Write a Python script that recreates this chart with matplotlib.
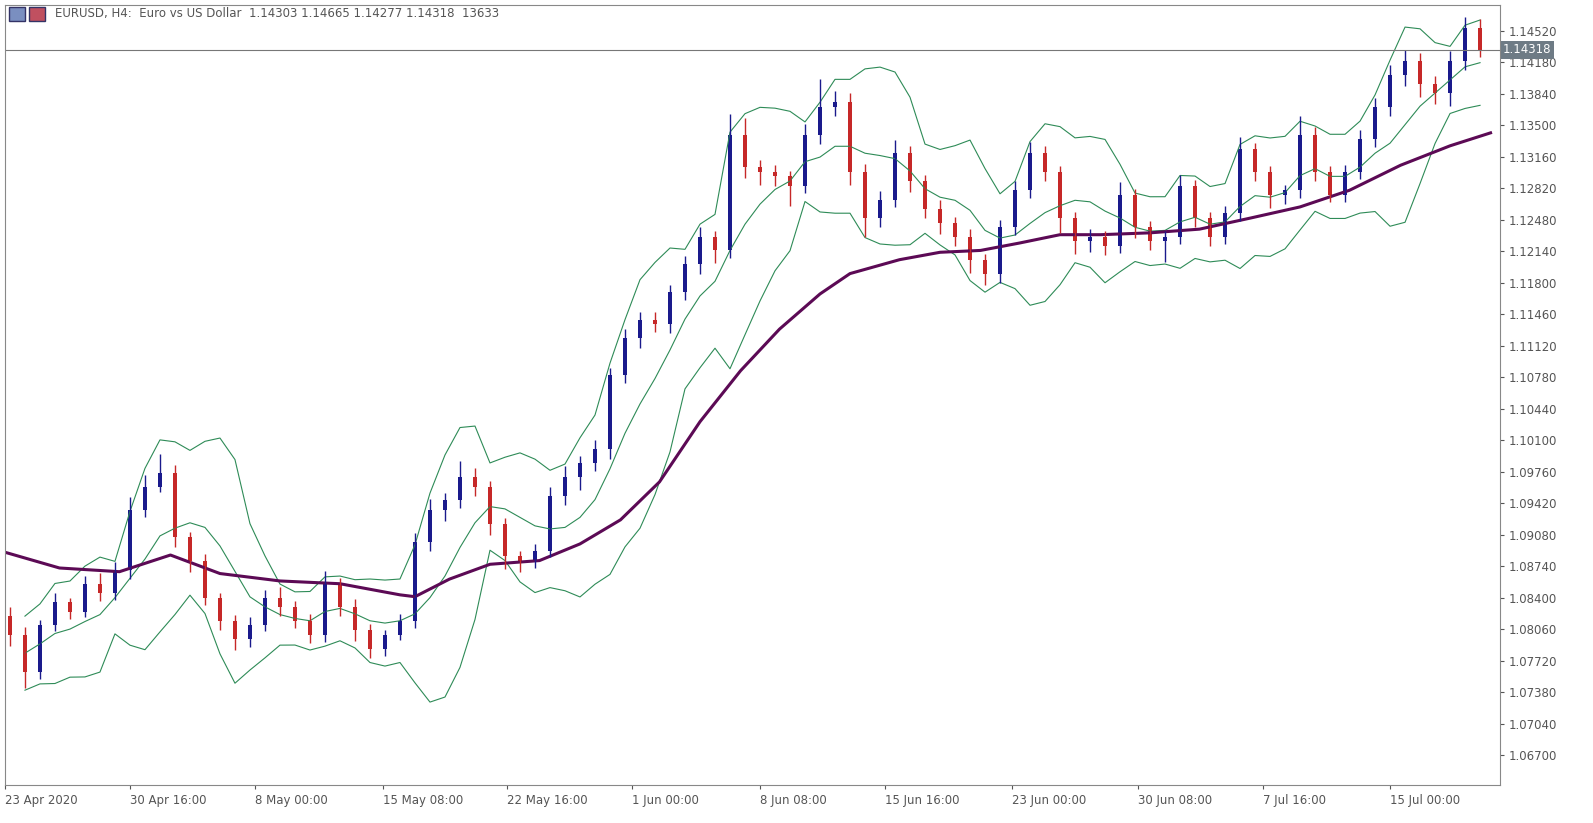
import matplotlib
matplotlib.use("Agg")
import matplotlib.pyplot as plt
import numpy as np
import pandas as pd

# close of each bar (one bar per ~8 hours)
closes = [1.0800, 1.0760, 1.0810, 1.0835, 1.0825, 1.0855, 1.0845, 1.0870, 1.0935, 1.0960,
          1.0975, 1.0905, 1.0880, 1.0840, 1.0815, 1.0795, 1.0810, 1.0840, 1.0830, 1.0815,
          1.0800, 1.0855, 1.0830, 1.0805, 1.0785, 1.0800, 1.0815, 1.0900, 1.0935, 1.0945,
          1.0970, 1.0960, 1.0920, 1.0885, 1.0880, 1.0890, 1.0950, 1.0970, 1.0985, 1.1000,
          1.1080, 1.1120, 1.1140, 1.1135, 1.1170, 1.1200, 1.1230, 1.1215, 1.1340, 1.1305,
          1.1300, 1.1295, 1.1285, 1.1340, 1.1370, 1.1375, 1.1300, 1.1250, 1.1270, 1.1320,
          1.1290, 1.1260, 1.1245, 1.1230, 1.1205, 1.1190, 1.1240, 1.1280, 1.1320, 1.1300,
          1.1250, 1.1225, 1.1230, 1.1220, 1.1275, 1.1240, 1.1225, 1.1230, 1.1285, 1.1250,
          1.1230, 1.1255, 1.1325, 1.1300, 1.1275, 1.1280, 1.1340, 1.1300, 1.1275, 1.1300,
          1.1335, 1.1370, 1.1405, 1.1420, 1.1395, 1.1385, 1.1420, 1.1455, 1.14318]
first_open = 1.0820
# wick sizes above / below the body, in pips
wick_up = [10, 8, 6, 10, 5, 8, 12, 9, 14, 12, 20, 8, 6, 7, 5, 6, 9, 8, 12, 6,
           7, 14, 6, 8, 6, 5, 7, 10, 12, 8, 18, 10, 6, 6, 5, 8, 10, 12, 8, 10,
           8, 10, 8, 9, 8, 9, 10, 6, 22, 18, 8, 7, 6, 12, 30, 12, 10, 8, 9, 14,
           8, 7, 9, 6, 8, 6, 8, 10, 12, 8, 6, 7, 8, 6, 14, 6, 7, 6, 12, 6,
           7, 8, 12, 6, 6, 6, 20, 8, 6, 7, 10, 10, 10, 12, 8, 8, 10, 12, 10]
wick_dn = [12, 18, 8, 6, 8, 6, 9, 8, 10, 8, 6, 10, 12, 8, 10, 12, 8, 6, 10, 8,
           9, 8, 10, 12, 10, 8, 6, 8, 10, 12, 8, 10, 12, 14, 12, 8, 6, 10, 14, 8,
           10, 8, 10, 8, 9, 8, 10, 14, 8, 12, 14, 10, 22, 8, 10, 10, 14, 20, 10, 8,
           12, 10, 12, 10, 14, 12, 10, 8, 8, 10, 16, 14, 12, 10, 8, 12, 10, 22, 8, 10,
           10, 8, 8, 10, 14, 10, 8, 10, 8, 8, 8, 8, 10, 12, 14, 12, 14, 10, 8]

# long moving average: (bar index, value)
ma_idx = [-0.33, 3.3, 7.3, 10.7, 14, 18, 22, 26, 27, 29.3, 32, 35.3, 38, 40.7, 43.3, 46,
          48.7, 51.3, 54, 56, 59.3, 62, 64.7, 67.3, 70, 72.7, 76, 79.3, 82.7, 86, 89.3,
          92.7, 96, 98.7]
ma_val = [1.0889, 1.0872, 1.0868, 1.0886, 1.0866, 1.0858, 1.0855, 1.0843, 1.0841, 1.0860,
          1.0876, 1.0880, 1.0898, 1.0924, 1.0965, 1.1030, 1.1085, 1.1130, 1.1168, 1.1190,
          1.1205, 1.1213, 1.1215, 1.1223, 1.1232, 1.1232, 1.1234, 1.1238, 1.1250, 1.1262,
          1.1280, 1.1307, 1.1328, 1.1342]

tick_idx = [-0.33, 8, 16.33, 24.87, 33.13, 41.47, 50, 58.33, 66.8, 75.2, 83.53, 92]
tick_labels = ["23 Apr 2020", "30 Apr 16:00", "8 May 00:00", "15 May 08:00", "22 May 16:00",
               "1 Jun 00:00", "8 Jun 08:00", "15 Jun 16:00", "23 Jun 00:00", "30 Jun 08:00",
               "7 Jul 16:00", "15 Jul 00:00"]
price_ticks = np.round(np.arange(1.06700, 1.14521, 0.0034), 5)
last_price = 1.14318

c = np.array(closes)
o = np.concatenate([[first_open], c[:-1]])
hi = np.maximum(o, c) + np.array(wick_up) * 1e-4
lo = np.minimum(o, c) - np.array(wick_dn) * 1e-4
x = np.arange(len(c))

s = pd.Series(c)
mid = s.rolling(6, min_periods=2).mean()
sd = s.rolling(6, min_periods=2).std(ddof=0)
upper = mid + 2 * sd
lower = mid - 2 * sd

fig = plt.figure(figsize=(15.93, 8.23), dpi=100)
ax = fig.add_axes([5 / 1593, 38 / 823, 1495 / 1593, 780 / 823])

band_col = "#2e8b57"
ax.plot(x, upper, color=band_col, lw=0.8)
ax.plot(x, mid, color=band_col, lw=0.8)
ax.plot(x, lower, color=band_col, lw=0.8)
ax.plot(ma_idx, ma_val, color="#5c0a55", lw=2.2)

bull, bear = "#1a1a8c", "#c62828"
for i in range(len(c)):
    col = bull if c[i] >= o[i] else bear
    ax.vlines(x[i], lo[i], hi[i], color=col, lw=1)
    ax.bar(x[i], abs(c[i] - o[i]) or 0.00005, 0.3, bottom=min(o[i], c[i]), color=col)

ax.axhline(last_price, color="#777777", lw=0.8)

ax.set_xlim(-0.33, 99.33)
ax.set_ylim(1.06376, 1.14801)
ax.yaxis.tick_right()
ax.set_yticks(price_ticks)
ax.set_yticklabels([f"{p:.5f}" for p in price_ticks], fontsize=8.5, color="#555555")
ax.set_xticks(tick_idx)
ax.set_xticklabels(tick_labels, fontsize=8.5, color="#555555", ha="left")
ax.tick_params(length=3, color="#555555")
for sp in ax.spines.values():
    sp.set_color("#888888")
ax.text(1.002, last_price, f"{last_price:.5f}", transform=ax.get_yaxis_transform(),
        va="center", ha="left", fontsize=8.5, color="white",
        bbox=dict(boxstyle="square,pad=0.2", fc="#6e7b85", ec="none"))

fig.text(55 / 1593, 1 - 14 / 823,
         "EURUSD, H4:  Euro vs US Dollar  1.14303 1.14665 1.14277 1.14318  13633",
         fontsize=8.5, color="#555555", va="center")
fig.patches.append(plt.Rectangle((9 / 1593, 1 - 21 / 823), 16 / 1593, 14 / 823,
                                 transform=fig.transFigure, fc="#7a8fc0", ec="#333366"))
fig.patches.append(plt.Rectangle((29 / 1593, 1 - 21 / 823), 16 / 1593, 14 / 823,
                                 transform=fig.transFigure, fc="#c05060", ec="#333366"))

plt.savefig("out.png", dpi=100)
plt.close()
